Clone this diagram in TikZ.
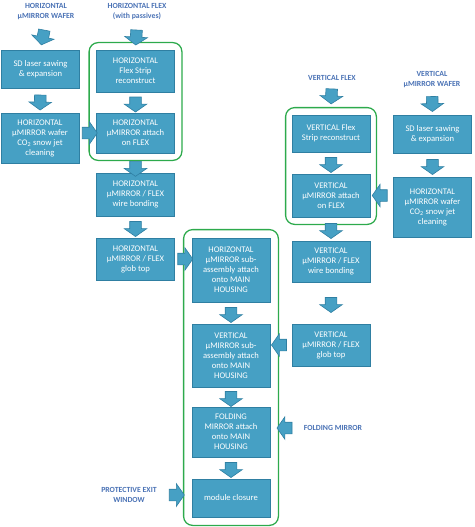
\documentclass[tikz,border=0pt]{standalone}
\usepackage{fontspec}
\setmainfont{Carlito}
\usetikzlibrary{shapes.arrows,fit,calc}
\definecolor{boxblue}{HTML}{46A0C4}
\definecolor{boxedge}{HTML}{2F7FA2}
\definecolor{titleblue}{HTML}{4A72B5}
\definecolor{framegreen}{HTML}{2DAA4C}

\begin{document}
\begin{tikzpicture}[x=1pt,y=-1pt,
  stepbox/.style={draw=boxedge,fill=boxblue,text=white,align=center,minimum width=78pt,inner sep=0pt,line width=0.8pt,font=\fontsize{8.6}{10}\selectfont},
  heading/.style={text=titleblue,align=center,inner sep=1pt,font=\bfseries\fontsize{7.8}{10}\selectfont},
  frame/.style={draw=framegreen,line width=1.3pt,rounded corners=9pt,inner sep=7pt},
  fat/.style={single arrow,draw=boxedge,fill=boxblue,line width=0.6pt,inner xsep=0pt,inner ysep=5.5pt,minimum height=15pt,single arrow head extend=5.5pt,single arrow tip angle=110,sloped,allow upside down}]
\useasboundingbox (0,0) rectangle (474,527);

\node[heading] (hwafer) at (46,12) {HORIZONTAL\\µMIRROR WAFER};
\node[heading] (hflex) at (137,12) {HORIZONTAL FLEX\\(with passives)};
\node[heading] (vflex) at (332,78) {VERTICAL FLEX};
\node[heading] (vwafer) at (432,80) {VERTICAL\\µMIRROR WAFER};
\node[heading] (fold) at (333,428) {FOLDING MIRROR};
\node[heading] (exitwin) at (129,495) {PROTECTIVE EXIT\\WINDOW};

\node[stepbox,minimum height=38pt] (hsaw) at (40.5,69) {SD laser sawing\\\& expansion};
\node[stepbox,minimum height=50pt] (hclean) at (40,138) {HORIZONTAL\\µMIRROR wafer\\CO\textsubscript{2} snow jet\\cleaning};
\node[stepbox,minimum height=42pt] (hstrip) at (135.5,71) {HORIZONTAL\\Flex Strip\\reconstruct};
\node[stepbox,minimum height=40pt] (hattach) at (135.5,133) {HORIZONTAL\\µMIRROR attach\\on FLEX};
\node[stepbox,minimum height=43pt] (hbond) at (135.5,194.5) {HORIZONTAL\\µMIRROR / FLEX\\wire bonding};
\node[stepbox,minimum height=42pt] (hglob) at (135.5,259) {HORIZONTAL\\µMIRROR / FLEX\\glob top};
\node[stepbox,minimum height=64pt] (hsub) at (231,270) {HORIZONTAL\\µMIRROR sub-\\assembly attach\\onto MAIN\\HOUSING};
\node[stepbox,minimum height=63pt] (vsub) at (231,355.5) {VERTICAL\\µMIRROR sub-\\assembly attach\\onto MAIN\\HOUSING};
\node[stepbox,minimum height=50pt] (fattach) at (231,432) {FOLDING\\MIRROR attach\\onto MAIN\\HOUSING};
\node[stepbox,minimum height=38pt] (closure) at (231,498) {module closure};
\node[stepbox,minimum height=37pt] (vstrip) at (331,133.5) {VERTICAL Flex\\Strip reconstruct};
\node[stepbox,minimum height=43pt] (vattach) at (331,195.5) {VERTICAL\\µMIRROR attach\\on FLEX};
\node[stepbox,minimum height=41pt] (vbond) at (331,261.5) {VERTICAL\\µMIRROR / FLEX\\wire bonding};
\node[stepbox,minimum height=42pt] (vglob) at (331,345) {VERTICAL\\µMIRROR / FLEX\\glob top};
\node[stepbox,minimum height=38pt] (vsaw) at (432.5,134) {SD laser sawing\\\& expansion};
\node[stepbox,minimum height=60pt] (vclean) at (432.5,207) {HORIZONTAL\\µMIRROR wafer\\CO\textsubscript{2} snow jet\\cleaning};

\node[frame,fit=(hstrip)(hattach)] (hframe) {};
\node[frame,fit=(hsub)(closure),inner sep=8pt] (mframe) {};
\node[frame,fit=(vstrip)(vattach),inner xsep=6pt] (vframe) {};

\path (hwafer.south) -- node[fat]{} (hsaw.north);
\path (hsaw.south) -- node[fat]{} (hclean.north);
\path (hflex.south) -- node[fat]{} (hstrip.north);
\path (hstrip.south) -- node[fat]{} (hattach.north);
\path (hattach.west -| hclean.east) -- node[fat]{} (hattach.west);
\path (hframe.south) -- node[fat]{} (hbond.north);
\path (hbond.south) -- node[fat]{} (hglob.north);
\path (hglob.east) -- node[fat]{} (hglob.east -| hsub.west);
\path (hsub.south) -- node[fat]{} (vsub.north);
\path (vsub.south) -- node[fat]{} (fattach.north);
\path (fattach.south) -- node[fat]{} (closure.north);
\path (vflex.south) -- node[fat]{} (vframe.north);
\path (vstrip.south) -- node[fat]{} (vattach.north);
\path (vattach.south) -- node[fat]{} (vbond.north);
\path (vbond.south) -- node[fat]{} (vglob.north);
\path (vwafer.south) -- node[fat]{} (vsaw.north);
\path (vsaw.south) -- node[fat]{} (vclean.north);
\path (vattach.east -| vclean.west) -- node[fat]{} (vattach.east);
\path (vglob.west) -- node[fat]{} (vglob.west -| vsub.east);
\path (fold.west) -- node[fat]{} (fold.west -| fattach.east);
\path (exitwin.east) -- node[fat]{} (exitwin.east -| closure.west);
\end{tikzpicture}
\end{document}
